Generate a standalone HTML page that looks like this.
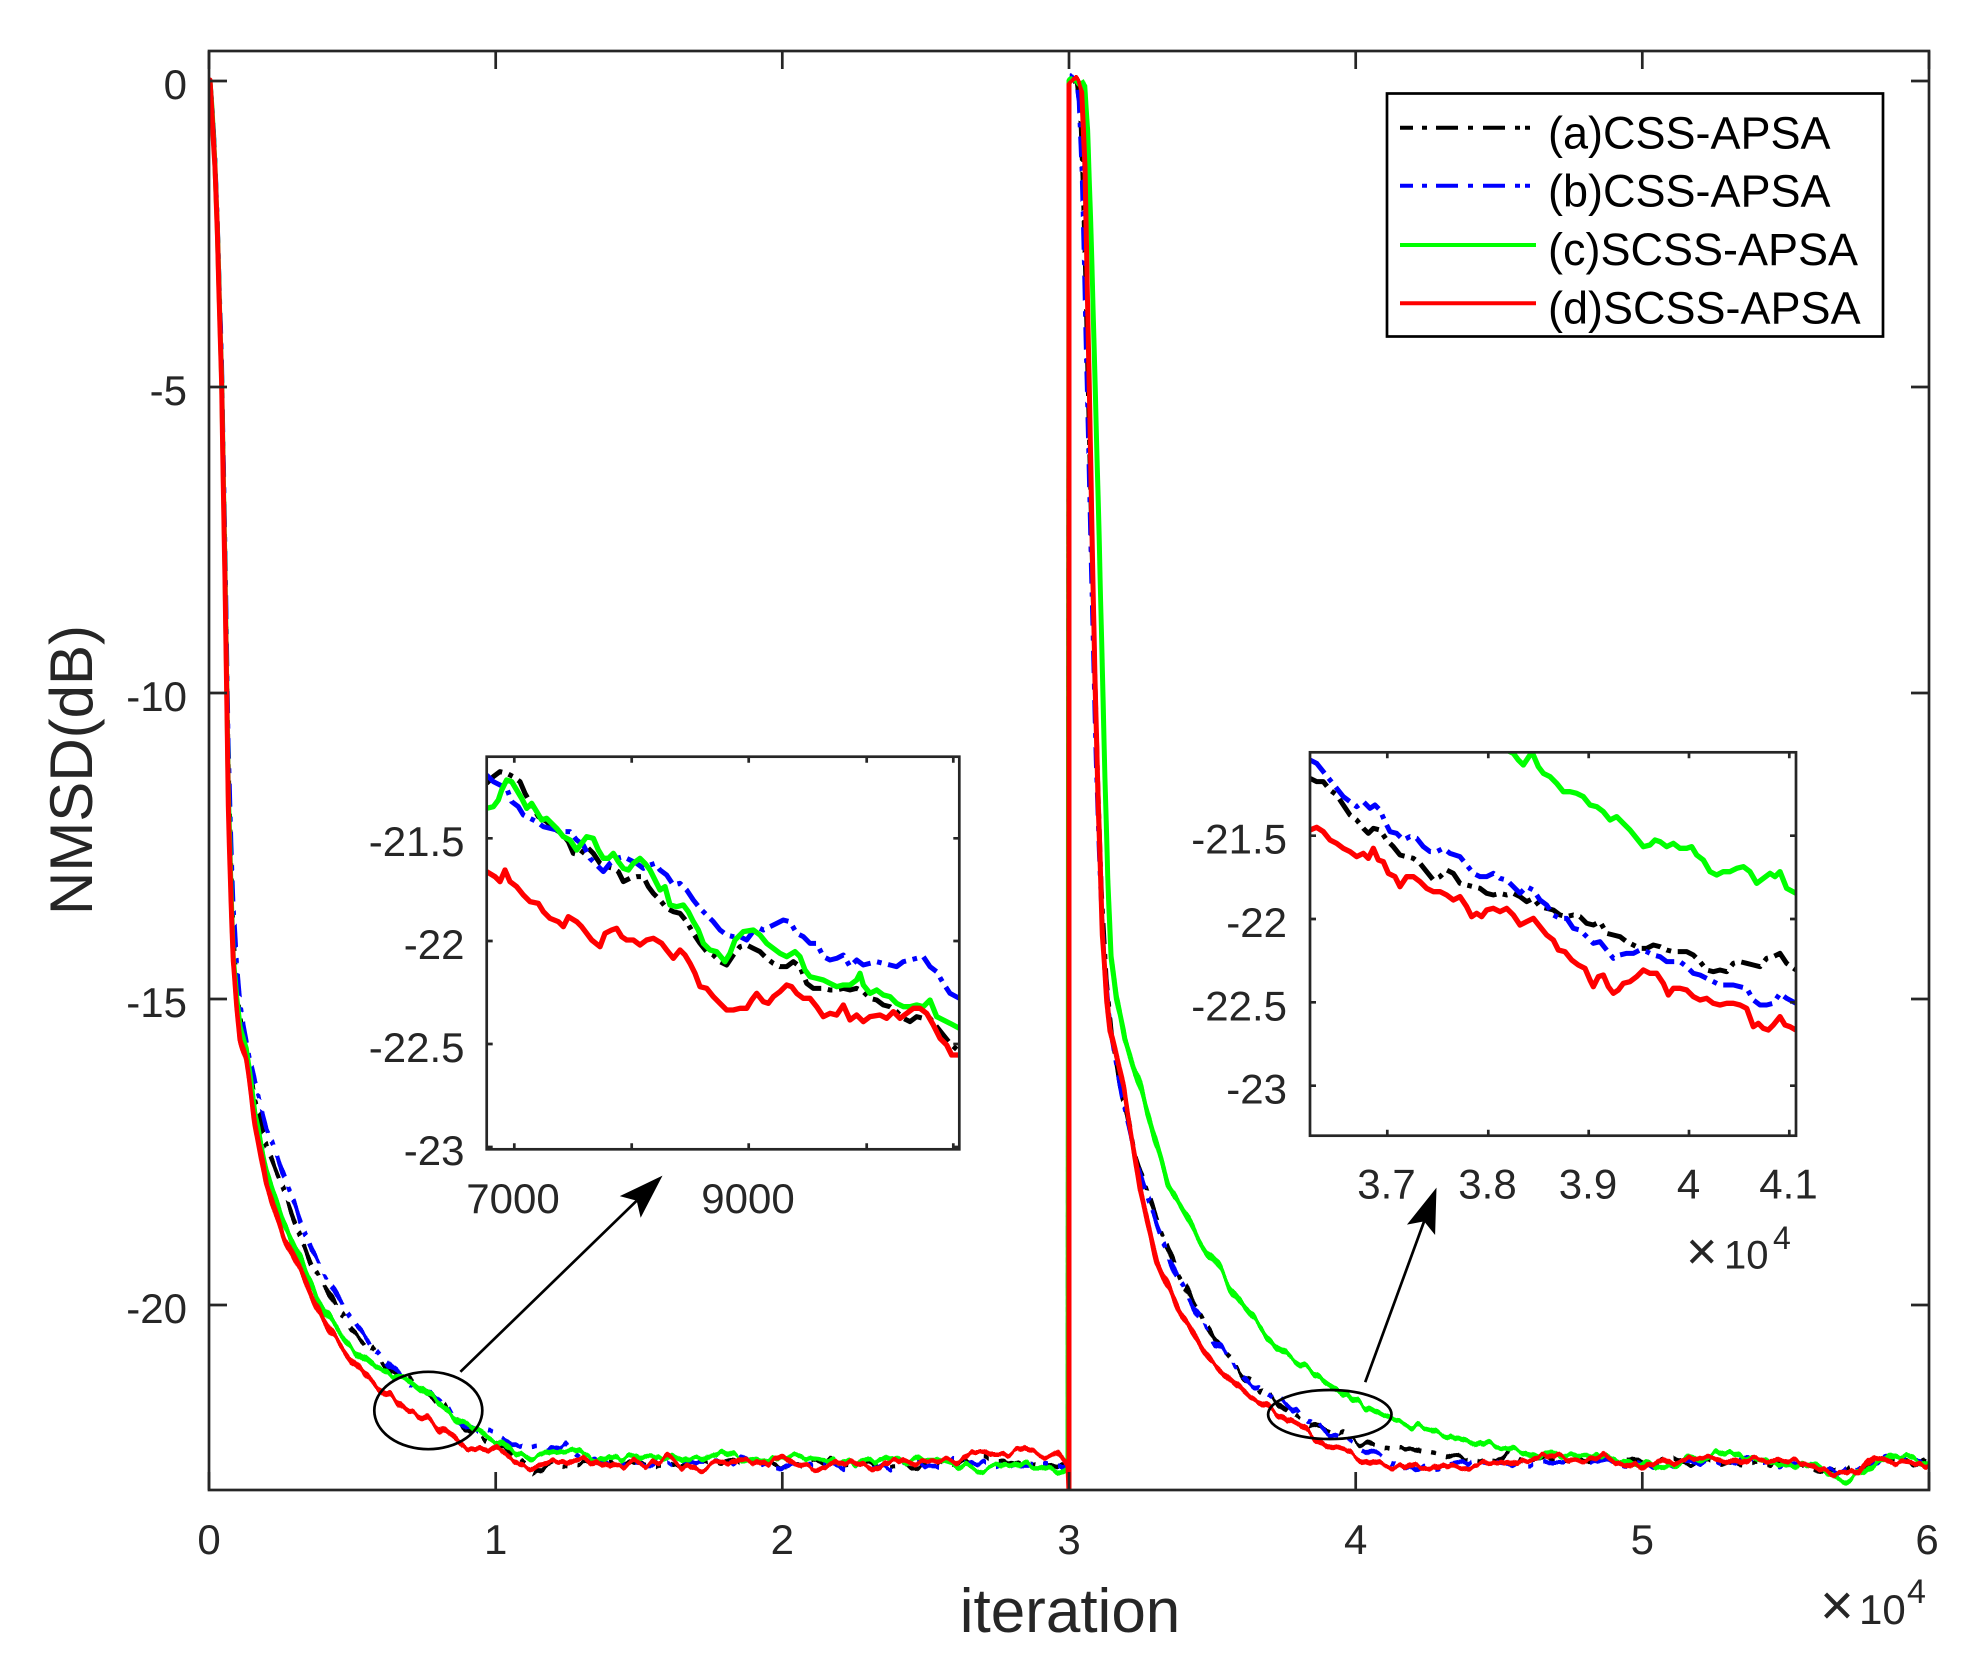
<!DOCTYPE html>
<html>
<head>
<meta charset="utf-8">
<style>
html,body{margin:0;padding:0;background:#fff;}
svg{display:block;}
text{font-family:"Liberation Sans",Arial,Helvetica,sans-serif;}
</style>
</head>
<body>
<svg xmlns="http://www.w3.org/2000/svg" width="1964" height="1667" viewBox="0 0 1964 1667">
<rect x="0" y="0" width="1964" height="1667" fill="#fff"/>
<defs>
  <clipPath id="mainclip"><rect x="209" y="51" width="1720" height="1439"/></clipPath>
  <clipPath id="in1clip" clipPathUnits="userSpaceOnUse"><rect x="20" y="50" width="1418" height="1178"/></clipPath>
  <clipPath id="in2clip" clipPathUnits="userSpaceOnUse"><rect x="30" y="37" width="1458" height="1150"/></clipPath>
  <filter id="j1" filterUnits="userSpaceOnUse" x="200" y="40" width="1740" height="1460" color-interpolation-filters="sRGB">
    <feTurbulence type="fractalNoise" baseFrequency="0.08 0.01" numOctaves="2" seed="3" result="t"/>
    <feColorMatrix in="t" type="matrix" values="0 0 0 0 0.5  0 1 0 0 0  0 0 1 0 0  0 0 0 0 1" result="m"/>
    <feDisplacementMap in="SourceGraphic" in2="m" scale="16" xChannelSelector="R" yChannelSelector="G"/>
  </filter>
  <filter id="j2" filterUnits="userSpaceOnUse" x="200" y="40" width="1740" height="1460" color-interpolation-filters="sRGB">
    <feTurbulence type="fractalNoise" baseFrequency="0.08 0.01" numOctaves="2" seed="11" result="t"/>
    <feColorMatrix in="t" type="matrix" values="0 0 0 0 0.5  0 1 0 0 0  0 0 1 0 0  0 0 0 0 1" result="m"/>
    <feDisplacementMap in="SourceGraphic" in2="m" scale="16" xChannelSelector="R" yChannelSelector="G"/>
  </filter>
  <filter id="j3" filterUnits="userSpaceOnUse" x="200" y="40" width="1740" height="1460" color-interpolation-filters="sRGB">
    <feTurbulence type="fractalNoise" baseFrequency="0.08 0.01" numOctaves="2" seed="27" result="t"/>
    <feColorMatrix in="t" type="matrix" values="0 0 0 0 0.5  0 1 0 0 0  0 0 1 0 0  0 0 0 0 1" result="m"/>
    <feDisplacementMap in="SourceGraphic" in2="m" scale="16" xChannelSelector="R" yChannelSelector="G"/>
  </filter>
  <filter id="j4" filterUnits="userSpaceOnUse" x="200" y="40" width="1740" height="1460" color-interpolation-filters="sRGB">
    <feTurbulence type="fractalNoise" baseFrequency="0.08 0.01" numOctaves="2" seed="45" result="t"/>
    <feColorMatrix in="t" type="matrix" values="0 0 0 0 0.5  0 1 0 0 0  0 0 1 0 0  0 0 0 0 1" result="m"/>
    <feDisplacementMap in="SourceGraphic" in2="m" scale="16" xChannelSelector="R" yChannelSelector="G"/>
  </filter>
</defs>

<!-- main curves -->
<g clip-path="url(#mainclip)" fill="none" stroke-linejoin="round">
  <g filter="url(#j1)">
  <path stroke="#000000" stroke-width="4.5" stroke-dasharray="22 10 5 10" d="M209,81 L210,81 L211.9,108.5 L215,160.6 L217.3,221.8 L220,313.6 L221.7,371.7 L223.3,460.4 L225,558.4 L226.7,662.4 L228.3,766.4 L231,864.4 L233.3,931.7 L236.7,986.8 L240,1017.4 L246.3,1044.9 L254.9,1096.9 L266.3,1145.9 L283.5,1188.7 L312.2,1268.3 L352.3,1329.5 L386.7,1366.2 L409.7,1377.2 L438.3,1402.9 L467,1427.4 L495.7,1442.1 L518.6,1459.8 L535.8,1471.5 L553,1462.9 L581.7,1465.3 L610,1461 L639,1464.1 L680,1466 L720,1461 L782.3,1465.3 L830,1462 L880,1467 L925.7,1465.3 L970,1460 L1011.7,1461.1 L1040,1466 L1068,1464.1 L1069,81 L1077,81 L1080.5,117.7 L1083.3,191.2 L1086.2,307.4 L1089.1,429.8 L1092,552.2 L1094.8,668.5 L1097.7,778.7 L1101.4,888.8 L1106.3,980.6 L1112,1035.7 L1119.2,1078.6 L1134.6,1152 L1156.7,1219.3 L1178.5,1274.4 L1211.5,1335.6 L1249.9,1381.5 L1269.7,1397.4 L1298.3,1418.2 L1327,1429.2 L1355.7,1440.3 L1384.3,1445.1 L1413,1448.8 L1452.8,1456.2 L1496.7,1462.9 L1507.6,1452.5 L1529.4,1462.9 L1585,1461.1 L1642.3,1464.1 L1700,1460 L1750,1465 L1785.7,1462.9 L1843,1473.3 L1886,1458 L1929,1464.1"/>
  </g>
  <g filter="url(#j2)">
  <path stroke="#0000ff" stroke-width="4.5" stroke-dasharray="22 10 5 10" d="M209,81 L210,81 L211.9,105.5 L215,157.5 L217.3,215.6 L220,307.4 L221.7,362.5 L223.3,448.2 L225,540 L226.7,644 L228.3,742 L231,839.9 L233.3,907.2 L236.7,962.3 L240,999 L243.4,1023.5 L254.9,1084.7 L266.3,1127.5 L283.5,1172.8 L312.2,1251.8 L352.3,1320.9 L392.5,1369.3 L409.7,1382.1 L438.3,1399.9 L467,1426.2 L495.7,1433.5 L518.6,1444.5 L530.1,1447.6 L564.5,1443.9 L581.7,1458 L639,1464.1 L700,1461 L782.3,1464.1 L850,1466 L925.7,1462.9 L1000,1465 L1068,1465.3 L1069,81 L1076.2,81 L1079,99.4 L1081.9,172.8 L1084.8,289.1 L1087.6,411.5 L1090.5,533.9 L1093.4,656.3 L1096.2,766.4 L1100,876.6 L1104.8,974.5 L1110.6,1029.6 L1117.7,1072.4 L1134.6,1155.7 L1156.7,1224.2 L1178.5,1279.3 L1211.5,1338 L1249.9,1382.7 L1269.7,1394.4 L1298.3,1412.1 L1327,1434.7 L1355.7,1444.5 L1384.3,1457.4 L1409,1470.2 L1441.7,1466.6 L1474.6,1459.8 L1507.6,1464.1 L1556.3,1461.1 L1642.3,1464.1 L1720,1461 L1785.7,1462.9 L1843,1471.5 L1886,1458 L1929,1464.1"/>
  </g>
  <g filter="url(#j3)">
  <path stroke="#00ff00" stroke-width="5" d="M209,81 L210,81 L211.9,108.5 L215,163.6 L217.3,227.9 L220,322.7 L221.7,380.9 L223.3,475.7 L225,570.6 L226.7,680.8 L228.3,790.9 L231,888.8 L233.3,956.2 L236.7,999 L240,1029.6 L246.3,1051 L254.9,1115.3 L266.3,1170.4 L283.5,1222.4 L300.7,1259.1 L323.7,1311.1 L346.6,1341.7 L375.3,1366.2 L392.5,1375.4 L400,1374 L409.7,1379.7 L420,1388 L438.3,1402.9 L450,1412 L460,1422 L467,1424.3 L480,1430 L495.7,1440.3 L518.6,1453.1 L530.1,1456.2 L564.5,1449.4 L590,1455 L610.3,1459.8 L644.7,1456.2 L679.1,1456.2 L700,1459 L725,1452.5 L759.4,1459.8 L793.8,1456.2 L828.2,1459.8 L856.9,1462.9 L897,1459.8 L942.9,1459.8 L977.3,1470.2 L1011.7,1466.6 L1040.3,1466.6 L1063.3,1471.5 L1068,1473.3 L1069,81 L1081.9,81 L1084.8,87.1 L1087.6,130 L1090.5,215.6 L1093.4,319.7 L1096.2,423.7 L1099.1,533.9 L1102,656.3 L1104.9,778.7 L1107.7,876.6 L1111.1,956.2 L1116.3,999 L1124.9,1040 L1140.2,1087.7 L1167.6,1182.6 L1200.6,1242 L1233.5,1292.8 L1277.4,1348.5 L1302.9,1365 L1327,1383.3 L1355.7,1401.1 L1384.3,1417 L1425.3,1431.1 L1460,1440 L1497,1448.2 L1507.6,1449.4 L1535.1,1456.2 L1589.9,1456.2 L1625,1460 L1661.2,1466.6 L1699.7,1456.2 L1726.9,1452.5 L1781.9,1462.9 L1825.8,1470.2 L1847.6,1480.6 L1869.7,1466.6 L1891.5,1452.5 L1929,1462.9"/>
  </g>
  <g filter="url(#j4)">
  <path stroke="#ff0000" stroke-width="5" d="M209,81 L210,81 L211.9,111.6 L215,167.9 L217.3,231.6 L220,327 L221.7,387 L223.3,484.9 L225,582.2 L226.7,693 L228.3,805 L231,901.1 L233.3,964.7 L236.7,1008.8 L240,1040 L246.3,1060.2 L254.9,1121.4 L266.3,1182.6 L283.5,1237.7 L300.7,1271.3 L315.1,1305 L332.3,1332.5 L352.3,1360.1 L375.3,1384.6 L398.2,1402.9 L409.7,1410.3 L425,1418 L438.3,1427.4 L450,1436 L460,1444 L467,1447.6 L480,1446 L495.7,1450 L518.6,1461.1 L530.1,1466.6 L553,1462.9 L587.4,1459.8 L610.3,1466.6 L644.7,1462.9 L667.7,1456.2 L696.3,1470.2 L725,1459.8 L759.4,1462.9 L782.3,1456.2 L811,1466.6 L839.7,1462.9 L868.3,1467.8 L897,1462.9 L925.7,1459.8 L954.3,1459.8 L971.5,1452.5 L1000.2,1452.5 L1017.4,1449.4 L1040.3,1456.2 L1057.5,1456.2 L1068,1466.6 L1069,1490 L1069,81 L1078.3,81 L1081.7,90.8 L1085,166.7 L1087.4,295.2 L1090,422.5 L1092.3,549.8 L1095,677.7 L1098.3,805 L1102.3,932.9 L1106.7,996.6 L1110,1029.6 L1123.8,1086.5 L1140.2,1189.9 L1156.7,1259.1 L1178.6,1310.5 L1211.5,1361.9 L1249.9,1396.8 L1269.7,1409 L1298.3,1424.3 L1327,1447.6 L1355.7,1456.2 L1384.3,1465.3 L1425.3,1469 L1470.3,1465.3 L1507.6,1462.9 L1562.1,1458 L1595.3,1456.2 L1628.3,1466.6 L1661.2,1462.9 L1699.7,1456.2 L1726.9,1462.9 L1759.9,1459.8 L1781.9,1458 L1814.3,1466.6 L1836.7,1473.9 L1858.5,1473.9 L1875.1,1456.2 L1891.5,1459.8 L1913.5,1462.9 L1929,1466.6"/>
  </g>
</g>

<!-- main axes frame + ticks -->
<g stroke="#262626" stroke-width="2.7" fill="none">
  <rect x="209" y="51" width="1720" height="1439"/>
  <path d="M209,1490v-18M495.7,1490v-18M782.3,1490v-18M1069,1490v-18M1355.7,1490v-18M1642.3,1490v-18M1929,1490v-18
           M209,51v18M495.7,51v18M782.3,51v18M1069,51v18M1355.7,51v18M1642.3,51v18M1929,51v18
           M209,81h18M209,387h18M209,693h18M209,999h18M209,1305h18
           M1929,81h-18M1929,387h-18M1929,693h-18M1929,999h-18M1929,1305h-18"/>
</g>

<!-- main tick labels -->
<g fill="#262626" font-size="42">
  <g text-anchor="end">
    <text x="187" y="99">0</text>
    <text x="187" y="405">-5</text>
    <text x="187" y="711">-10</text>
    <text x="187" y="1017">-15</text>
    <text x="187" y="1323">-20</text>
  </g>
  <g text-anchor="middle">
    <text x="209" y="1554">0</text>
    <text x="495.7" y="1554">1</text>
    <text x="782.3" y="1554">2</text>
    <text x="1069" y="1554">3</text>
    <text x="1355.7" y="1554">4</text>
    <text x="1642.3" y="1554">5</text>
    <text x="1927" y="1554">6</text>
  </g>
  <text x="1820" y="1625" font-size="58">×</text>
  <text x="1859" y="1624">10</text>
  <text x="1907" y="1603" font-size="34">4</text>
</g>
<text x="1070" y="1632" font-size="62" fill="#262626" text-anchor="middle">iteration</text>
<text transform="translate(92,770) rotate(-90)" font-size="60" fill="#262626" text-anchor="middle">NMSD(dB)</text>

<!-- legend -->
<rect x="1387" y="93.5" width="496" height="243" fill="#fff" stroke="#000" stroke-width="2.7"/>
<g fill="none" stroke-width="4">
  <line x1="1400" y1="127.7" x2="1536" y2="127.7" stroke="#000" stroke-dasharray="13 9 5 9 22 10 5 10 22 10 5 5 5"/>
  <line x1="1400" y1="185.7" x2="1536" y2="185.7" stroke="#0000ff" stroke-dasharray="13 9 5 9 22 10 5 10 22 10 5 5 5"/>
  <line x1="1400" y1="245" x2="1536" y2="245" stroke="#00ff00"/>
  <line x1="1400" y1="303.3" x2="1536" y2="303.3" stroke="#ff0000"/>
</g>
<g fill="#000" font-size="45">
  <text x="1548" y="148.3">(a)CSS-APSA</text>
  <text x="1548" y="206.7">(b)CSS-APSA</text>
  <text x="1548" y="265">(c)SCSS-APSA</text>
  <text x="1548" y="323.3">(d)SCSS-APSA</text>
</g>

<!-- ellipses and arrows -->
<g fill="none" stroke="#000" stroke-width="2.7">
  <ellipse cx="428.3" cy="1410.5" rx="54" ry="38.7"/>
  <ellipse cx="1329.8" cy="1414.5" rx="61.7" ry="24.5"/>
  <line x1="460.4" y1="1371.8" x2="636.7" y2="1200.7"/>
  <line x1="1365.2" y1="1382.2" x2="1424.1" y2="1221.4"/>
</g>
<polygon points="662.5,1175.6 640.67,1217.7 636.67,1200.67 619.77,1196.18" fill="#000"/>
<polygon points="1436.5,1187.6 1435.1,1235.0 1424.12,1221.39 1406.94,1224.68" fill="#000"/>

<!-- inset 1 -->
<rect x="486.7" y="756.7" width="472.6" height="392.6" fill="#fff"/>
<g transform="translate(480,740) scale(0.3333333)" fill="none" stroke-linejoin="round" stroke-width="15" clip-path="url(#in1clip)">
  <polyline stroke="#000" stroke-dasharray="60 20 14 20" points="20,130 40,110 60,95 80,100 100,110 120,125 135,160 155,195 175,230 200,245 220,265 245,280 265,305 280,340 300,345 320,320 340,340 360,370 380,380 400,385 415,395 430,425 450,415 470,410 490,410 505,440 520,460 540,480 560,505 580,515 600,520 620,545 640,580 660,610 680,635 700,645 720,665 740,675 760,645 780,620 800,615 820,625 840,635 860,655 880,670 900,680 920,680 940,665 960,680 980,730 1000,745 1030,745 1050,750 1070,750 1090,745 1110,750 1130,745 1150,755 1170,775 1190,780 1210,795 1230,800 1250,815 1270,835 1290,845 1310,830 1330,835 1350,835 1370,860 1390,885 1410,910 1438,935"/>
  <polyline stroke="#0000ff" stroke-dasharray="60 20 14 20" points="20,105 40,125 60,135 80,145 95,185 115,200 130,225 150,235 170,245 190,260 210,265 230,270 250,275 270,275 290,300 310,315 330,355 350,375 370,395 390,370 410,355 430,350 450,360 470,370 490,385 510,375 525,370 540,390 560,405 580,435 600,430 620,450 640,480 660,505 680,525 700,545 720,570 740,585 760,590 780,590 800,600 815,580 830,560 850,570 870,560 890,550 910,540 930,545 950,580 970,590 990,610 1010,610 1030,650 1050,660 1070,655 1090,645 1110,680 1130,660 1150,675 1170,670 1190,665 1210,670 1230,675 1250,680 1270,665 1290,660 1310,655 1330,650 1350,680 1370,695 1390,730 1410,760 1438,775"/>
  <polyline stroke="#00ff00" stroke-width="16" points="20,205 40,200 55,180 65,150 80,120 95,125 110,150 125,175 140,205 155,190 170,215 185,240 200,235 215,250 230,265 250,290 270,300 290,330 305,310 320,290 340,295 355,330 370,355 385,355 400,340 415,365 430,385 445,390 460,370 480,355 495,370 510,390 525,420 540,450 555,440 570,495 590,500 610,495 625,515 640,545 655,570 670,610 690,630 710,635 735,665 750,640 765,600 790,575 820,570 840,585 860,610 880,625 900,640 920,650 945,635 960,650 975,690 990,710 1010,715 1030,720 1050,730 1070,740 1090,735 1110,735 1130,720 1140,700 1150,735 1170,760 1190,750 1210,765 1230,770 1250,790 1270,800 1290,800 1310,795 1330,800 1350,780 1370,830 1390,840 1410,850 1438,865"/>
  <polyline stroke="#ff0000" stroke-width="16" points="20,395 45,410 60,425 75,390 90,425 110,440 130,465 150,485 175,490 190,515 210,535 235,545 250,560 265,530 290,545 305,560 320,580 335,600 360,620 375,580 395,570 410,565 425,590 440,600 460,600 480,615 500,600 520,595 545,610 560,630 580,655 600,630 615,645 630,670 645,700 660,740 680,745 700,770 720,790 740,810 760,810 780,805 800,805 815,780 830,760 850,785 865,790 880,770 900,755 920,735 935,740 950,760 970,775 990,775 1010,800 1030,830 1050,820 1070,825 1090,795 1110,840 1130,825 1150,845 1170,830 1200,825 1220,835 1240,815 1260,835 1280,820 1300,805 1320,805 1340,820 1360,855 1380,895 1400,915 1415,945 1438,945"/>
</g>
<g stroke="#262626" stroke-width="2.7" fill="none">
  <rect x="486.7" y="756.7" width="472.6" height="392.6"/>
  <path d="M514.3,1149.3v-6M631.7,1149.3v-6M748.7,1149.3v-6M866.7,1149.3v-6M953.3,1149.3v-6
           M514.3,756.7v6M631.7,756.7v6M748.7,756.7v6M866.7,756.7v6M953.3,756.7v6
           M486.7,838.3h6M486.7,941h6M486.7,1044h6M486.7,1147h6
           M959.3,838.3h-6M959.3,941h-6M959.3,1044h-6M959.3,1147h-6"/>
</g>
<g fill="#262626" font-size="42">
  <g text-anchor="end">
    <text x="464.5" y="856">-21.5</text>
    <text x="464.5" y="959">-22</text>
    <text x="464.5" y="1062">-22.5</text>
    <text x="464.5" y="1165">-23</text>
  </g>
  <g text-anchor="middle">
    <text x="513" y="1213">7000</text>
    <text x="748" y="1213">9000</text>
  </g>
</g>

<!-- inset 2 -->
<rect x="1310" y="752.3" width="486" height="383.4" fill="#fff"/>
<g transform="translate(1300,740) scale(0.3333333)" fill="none" stroke-linejoin="round" stroke-width="15" clip-path="url(#in2clip)">
  <polyline stroke="#000" stroke-dasharray="60 20 14 20" points="30,115 50,125 70,125 90,150 110,165 130,195 150,225 170,240 190,265 205,280 220,265 240,270 260,300 280,320 300,345 320,350 340,355 360,370 380,395 400,420 420,410 440,390 460,400 480,430 500,435 520,440 540,445 560,460 580,465 600,460 620,465 640,460 660,470 680,485 700,475 720,500 740,505 760,510 780,525 800,530 820,525 840,530 860,550 880,555 900,545 920,580 940,585 960,590 980,605 1000,615 1020,625 1040,625 1060,615 1080,620 1100,630 1120,635 1140,635 1160,635 1180,645 1200,665 1220,690 1240,695 1260,690 1280,695 1300,670 1320,665 1340,670 1360,675 1380,680 1400,655 1420,650 1440,640 1460,670 1488,690"/>
  <polyline stroke="#0000ff" stroke-dasharray="60 20 14 20" points="30,60 50,70 70,95 90,120 110,145 130,170 150,185 170,200 190,185 210,205 225,195 240,210 255,245 270,275 290,280 310,300 330,290 350,295 370,320 390,335 410,335 430,325 450,340 480,350 500,375 520,400 540,410 560,410 580,400 600,415 620,420 640,440 660,460 680,440 700,450 720,480 740,495 760,525 780,535 800,535 820,565 840,570 860,590 880,610 900,605 920,630 940,655 960,645 980,640 1000,640 1020,630 1040,635 1060,645 1080,650 1100,665 1120,665 1140,665 1160,680 1180,700 1200,705 1220,715 1240,725 1260,735 1280,735 1300,735 1320,740 1340,745 1360,780 1380,795 1400,795 1420,790 1440,760 1460,775 1488,790"/>
  <polyline stroke="#00ff00" stroke-width="16" points="600,20 640,40 655,60 670,75 690,45 700,45 715,80 730,100 750,110 770,130 790,155 810,155 830,160 850,170 870,195 890,200 910,215 930,240 950,230 970,250 990,270 1010,295 1030,320 1050,315 1065,300 1080,305 1100,320 1120,310 1140,325 1160,325 1175,320 1190,345 1210,360 1230,395 1250,405 1270,395 1290,395 1310,385 1330,380 1350,395 1370,430 1390,415 1410,400 1425,410 1440,395 1460,445 1488,460"/>
  <polyline stroke="#ff0000" stroke-width="16" points="30,270 50,262 70,275 90,300 110,310 130,325 150,335 170,350 190,340 205,355 220,325 235,360 250,365 265,400 285,410 300,440 320,410 340,410 360,425 380,445 400,455 420,455 440,465 460,480 480,470 500,500 515,530 530,520 545,530 560,510 580,505 600,515 620,505 640,525 660,555 680,545 700,535 720,560 740,585 760,600 775,630 795,635 815,660 835,675 855,685 870,720 880,740 895,710 910,705 925,740 940,760 955,750 970,730 990,725 1010,710 1030,690 1050,700 1070,700 1090,730 1105,765 1120,745 1140,745 1160,750 1180,770 1200,780 1220,775 1240,790 1260,795 1280,790 1300,790 1320,795 1340,805 1360,860 1375,850 1390,865 1405,870 1420,855 1440,830 1455,855 1470,860 1488,870"/>
</g>
<g stroke="#262626" stroke-width="2.7" fill="none">
  <rect x="1310" y="752.3" width="486" height="383.4"/>
  <path d="M1387.3,1135.7v-6M1488.3,1135.7v-6M1588.7,1135.7v-6M1689,1135.7v-6M1789.3,1135.7v-6
           M1387.3,752.3v6M1488.3,752.3v6M1588.7,752.3v6M1689,752.3v6M1789.3,752.3v6
           M1310,835.7h6M1310,919h6M1310,1002.3h6M1310,1085.7h6
           M1796,835.7h-6M1796,919h-6M1796,1002.3h-6M1796,1085.7h-6"/>
</g>
<g fill="#262626" font-size="42">
  <g text-anchor="end">
    <text x="1287" y="853.7">-21.5</text>
    <text x="1287" y="937">-22</text>
    <text x="1287" y="1020.3">-22.5</text>
    <text x="1287" y="1103.7">-23</text>
  </g>
  <g text-anchor="middle">
    <text x="1386.5" y="1198.6">3.7</text>
    <text x="1487.5" y="1198.6">3.8</text>
    <text x="1588" y="1198.6">3.9</text>
    <text x="1688.5" y="1198.6">4</text>
    <text x="1788.5" y="1198.6">4.1</text>
  </g>
  <text x="1686" y="1269.5" font-size="54">×</text>
  <text x="1724" y="1268.5" font-size="40">10</text>
  <text x="1773" y="1249" font-size="32">4</text>
</g>
</svg>
</body>
</html>
